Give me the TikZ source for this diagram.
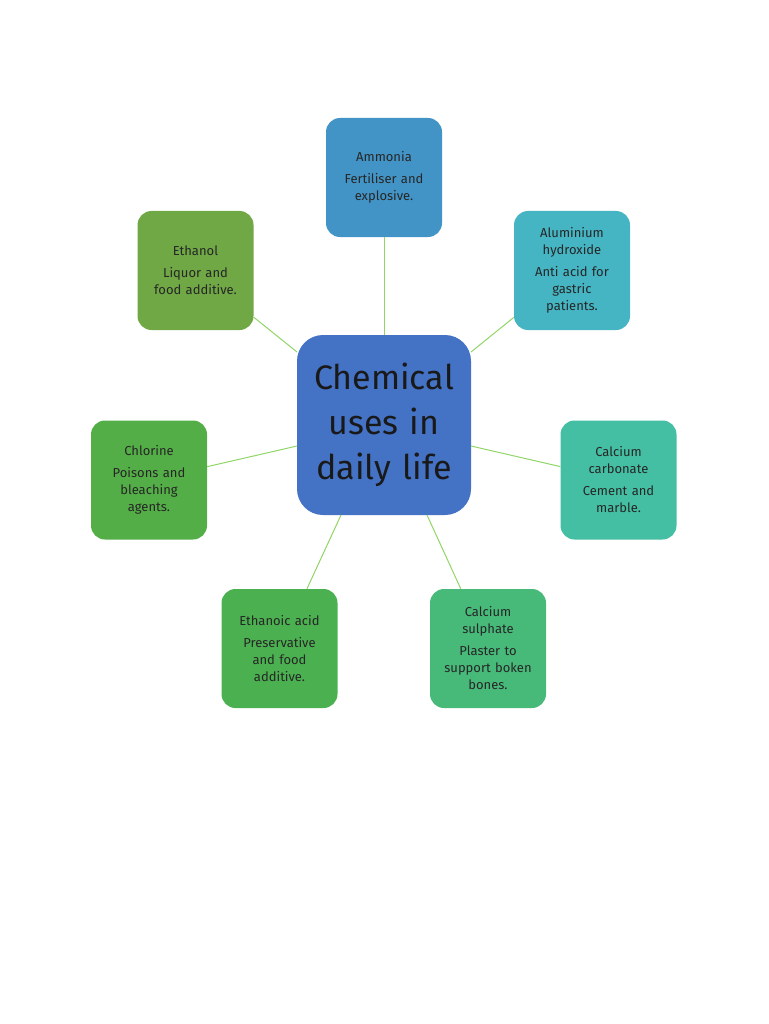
\documentclass[tikz,border=0pt]{standalone}
\usepackage{fontspec}
\setmainfont{Fira Sans}
\begin{document}
\begin{tikzpicture}[x=1pt,y=-1pt,
  leaf/.style={draw=none,rounded corners=14pt,minimum width=116pt,minimum height=119pt,text width=106pt,align=center,font=\fontsize{13}{17}\selectfont,text=black!85,inner sep=0pt},
  link/.style={draw=green!45!olive!60!white,line width=1pt}]
\useasboundingbox (0,0) rectangle (768,1024);
\definecolor{cc}{HTML}{4472C4}
\node[fill=cc,rounded corners=26pt,minimum width=174pt,minimum height=180pt,text width=165pt,align=center,font=\fontsize{34}{45}\selectfont,text=black!90,inner sep=0pt] (c) at (384,425) {Chemical\\uses in\\daily life};
\node[leaf,fill={rgb,255:red,67;green,148;blue,198}] (am) at (384,177.5) {Ammonia\\[5pt]Fertiliser and\\explosive.};
\node[leaf,fill={rgb,255:red,69;green,181;blue,196}] (al) at (572,270.5) {Aluminium\\hydroxide\\[5pt]Anti acid for\\gastric\\patients.};
\node[leaf,fill={rgb,255:red,69;green,191;blue,163}] (cc2) at (618.5,480) {Calcium\\carbonate\\[5pt]Cement and\\marble.};
\node[leaf,fill={rgb,255:red,71;green,186;blue,122}] (cs) at (488,648.5) {Calcium\\sulphate\\[5pt]Plaster to\\support boken\\bones.};
\node[leaf,fill={rgb,255:red,75;green,177;blue,80}] (ea) at (279.5,648.5) {Ethanoic acid\\[5pt]Preservative\\and food\\additive.};
\node[leaf,fill={rgb,255:red,84;green,174;blue,71}] (cl) at (149,480) {Chlorine\\[5pt]Poisons and\\bleaching\\agents.};
\node[leaf,fill={rgb,255:red,111;green,168;blue,69}] (et) at (195.5,270.5) {Ethanol\\[5pt]Liquor and\\food additive.};
\draw[link] (c.north) -- (am.south);
\draw[link] (471,352) -- (al);
\draw[link] (471,446) -- (cc2);
\draw[link] (427,515) -- (cs);
\draw[link] (341,515) -- (ea);
\draw[link] (297,446) -- (cl);
\draw[link] (297,352) -- (et);
\end{tikzpicture}
\end{document}
